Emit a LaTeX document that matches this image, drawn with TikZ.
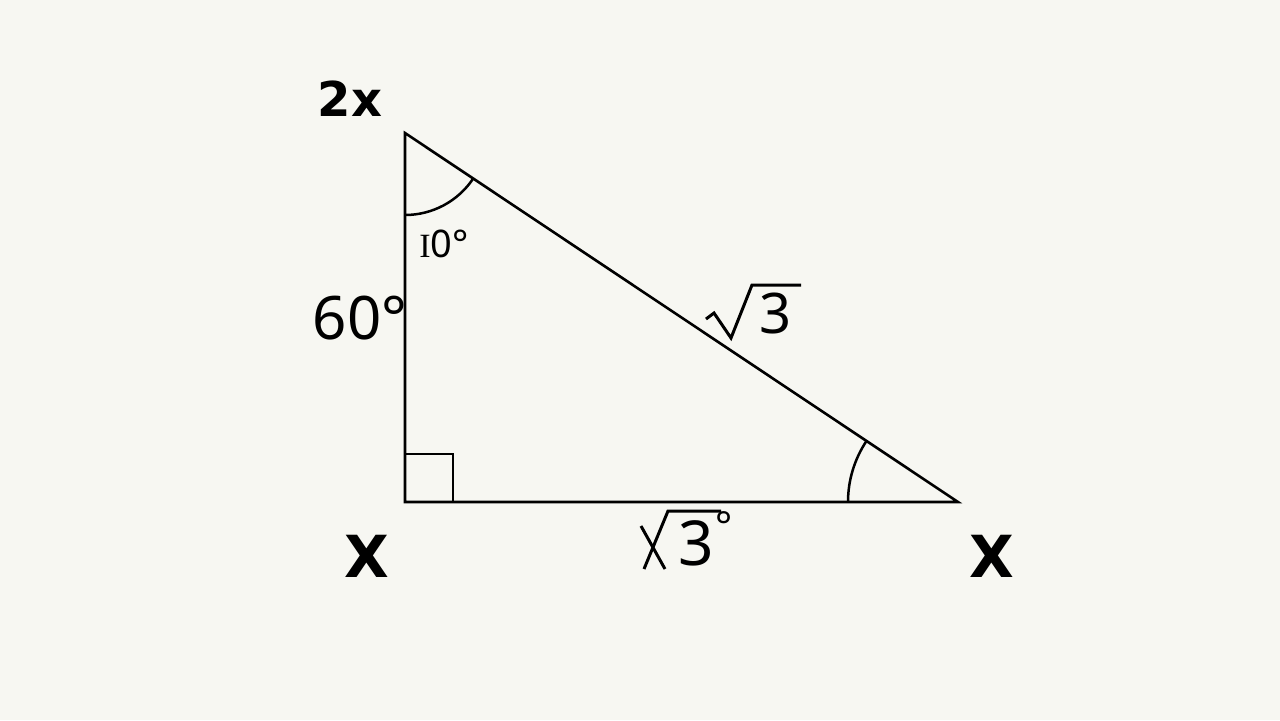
\documentclass[tikz,border=0pt]{standalone}
\usepackage{fontspec}
\setmainfont{Noto Sans}
\newfontfamily\boldlab{DejaVu Sans}
\newfontfamily\serifI{Liberation Serif}
\definecolor{bg}{RGB}{247,247,242}
\begin{document}
\begin{tikzpicture}[x=0.5pt,y=-0.5pt,
  edge/.style={line width=1.3pt,line join=miter},
  arcmark/.style={line width=1.25pt},
  radical/.style={line width=1.5pt,line join=miter},
  boldlabel/.style={font=\boldlab\bfseries\fontsize{29}{30}\selectfont,inner sep=0pt},
  vlabel/.style={font=\boldlab\bfseries\fontsize{24}{26}\selectfont,inner sep=0pt},
  numlabel/.style={inner sep=0pt}]
\fill[bg] (0,0) rectangle (1280,720);
\useasboundingbox (0,0) rectangle (1280,720);
% vertices
\coordinate (T) at (405,133);
\coordinate (L) at (405,502);
\coordinate (R) at (958,502);
\draw[edge] (T) -- (L) -- (R) -- cycle;
% right angle
\coordinate (sq1) at (405,454);
\coordinate (sq2) at (453,454);
\coordinate (sq3) at (453,502);
\draw[line width=1.25pt] (sq1) -- (sq2) -- (sq3);
% angle arcs
\draw[arcmark] (T) ++(0,82) coordinate (ta) arc[start angle=-90,end angle=-33.7,radius=41pt];
\draw[arcmark] (R) ++(-110,0) coordinate (ra) arc[start angle=180,end angle=146.3,radius=55pt];
% labels
\node[vlabel] (l2x) at (350,99) {2x};
\node[boldlabel] (lxl) at (367,556) {X};
\node[boldlabel] (lxr) at (992,556) {X};
\node[numlabel,font=\fontsize{30}{32}\selectfont] (l60) at (360,318) {60°};
\node[numlabel,font=\fontsize{19}{20}\selectfont] (l10) at (444,244) {{\serifI\fontsize{17}{18}\selectfont I}0°};
% hypotenuse label: radical sign and 3
\coordinate (ra1) at (706,319);
\coordinate (ra2) at (714,313);
\coordinate (ra3) at (731,338);
\coordinate (ra4) at (752,285);
\coordinate (ra5) at (801,285);
\draw[radical] (ra1) -- (ra2) -- (ra3) -- (ra4) -- (ra5);
\node[numlabel,font=\fontsize{28}{30}\selectfont] (lsq) at (776,313) {3};
% base label: crossed radical, 3 and degree
\coordinate (rb1) at (641,526);
\coordinate (rb2) at (665,569);
\coordinate (rb3) at (644,569);
\coordinate (rb4) at (668,511);
\coordinate (rb5) at (721,511);
\draw[radical] (rb1) -- (rb2);
\draw[radical] (rb3) -- (rb4) -- (rb5);
\node[numlabel,font=\fontsize{31}{33}\selectfont] (lsqb) at (696,543) {3};
\node[numlabel,font=\fontsize{20}{22}\selectfont] (degb) at (724,526) {°};
\end{tikzpicture}
\end{document}
